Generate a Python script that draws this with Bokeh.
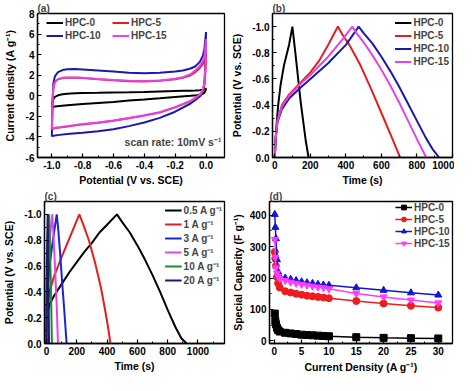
from bokeh.plotting import figure
from bokeh.layouts import column, row
from bokeh.models import Range1d, FixedTicker, PrintfTickFormatter, Legend, LegendItem, Label
from bokeh.embed import file_html
from bokeh.resources import INLINE

# ---------------- (a) CV curves ----------------
cv_v_fwd = [-1.0, -0.998, -0.995, -0.99, -0.98, -0.96, -0.93, -0.9, -0.85, -0.8, -0.7, -0.6,
            -0.5, -0.4, -0.3, -0.2, -0.15, -0.1, -0.07, -0.04, -0.02, -0.01, 0.0]
cv_v_rev = [0.0, -0.003, -0.01, -0.02, -0.035, -0.06, -0.1, -0.2, -0.3, -0.4, -0.5, -0.6,
            -0.7, -0.8, -0.9, -0.95, -0.98, -1.0]
hpc0_j_fwd = [-1.1, -0.8, -0.5, -0.3, -0.1, 0.05, 0.15, 0.2, 0.25, 0.28, 0.3, 0.33,
              0.35, 0.38, 0.42, 0.46, 0.48, 0.5, 0.52, 0.55, 0.6, 0.65, 0.72]
hpc0_j_rev = [0.72, 0.5, 0.3, 0.2, 0.12, 0.05, 0.0, -0.12, -0.25, -0.37, -0.47, -0.6,
              -0.7, -0.8, -0.92, -1.0, -1.05, -1.1]
hpc5_j_fwd = [-3.25, -2.0, -0.3, 0.8, 1.35, 1.6, 1.72, 1.75, 1.75, 1.72, 1.6, 1.5,
              1.42, 1.4, 1.45, 1.6, 1.75, 2.0, 2.3, 2.7, 3.1, 3.4, 4.2]
hpc5_j_rev = [4.2, 2.4, 1.1, 0.5, 0.15, -0.15, -0.52, -1.13, -1.63, -1.93, -2.18, -2.43,
              -2.63, -2.78, -2.98, -3.08, -3.13, -3.25]
hpc10_j_fwd = [-3.95, -2.5, -0.5, 1.2, 1.9, 2.3, 2.5, 2.58, 2.6, 2.55, 2.45, 2.35,
               2.25, 2.2, 2.25, 2.35, 2.45, 2.65, 2.85, 3.3, 3.9, 4.6, 6.2]
hpc10_j_rev = [6.2, 3.5, 1.25, 0.5, 0.0, -0.3, -0.75, -1.55, -2.15, -2.6, -2.95, -3.25,
               -3.45, -3.6, -3.72, -3.8, -3.85, -3.95]
hpc15_j_fwd = [-3.25, -2.0, -0.3, 0.8, 1.35, 1.62, 1.75, 1.78, 1.78, 1.75, 1.63, 1.53,
               1.45, 1.43, 1.48, 1.65, 1.8, 2.1, 2.45, 2.9, 3.4, 3.9, 5.5]
hpc15_j_rev = [5.5, 3.0, 1.3, 0.6, 0.2, -0.1, -0.5, -1.1, -1.6, -1.9, -2.15, -2.4,
               -2.6, -2.75, -2.95, -3.05, -3.1, -3.2]

# ---------------- (b) GCD of samples ----------------
b_hpc0_t = [0, 3, 8, 19, 32, 51, 80, 99, 118, 146, 175, 190]
b_hpc0_v = [0, -0.1, -0.22, -0.4, -0.55, -0.7, -0.86, -1.0, -0.77, -0.42, -0.12, 0.0]
b_hpc5_t = [0, 5, 15, 40, 80, 150, 200, 250, 300, 355, 380, 420, 480, 540, 600, 650, 690, 705]
b_hpc5_v = [0, -0.15, -0.28, -0.4, -0.48, -0.58, -0.65, -0.74, -0.86, -1.0, -0.94, -0.86,
            -0.71, -0.53, -0.34, -0.18, -0.05, 0.0]
b_hpc10_t = [0, 5, 15, 40, 80, 150, 200, 300, 400, 472, 500, 550, 600, 650, 700, 750, 800,
             850, 890, 925]
b_hpc10_v = [0, -0.15, -0.27, -0.37, -0.45, -0.54, -0.6, -0.72, -0.86, -1.0, -0.95, -0.87,
             -0.77, -0.66, -0.54, -0.41, -0.28, -0.15, -0.06, 0.0]
b_hpc15_t = [0, 5, 15, 40, 80, 150, 200, 300, 380, 436, 460, 500, 550, 600, 650, 700, 750,
             800, 830, 852]
b_hpc15_v = [0, -0.15, -0.28, -0.39, -0.47, -0.57, -0.63, -0.77, -0.9, -1.0, -0.95, -0.88,
             -0.78, -0.67, -0.55, -0.42, -0.28, -0.14, -0.06, 0.0]

# ---------------- (c) GCD of HPC-10 at different current densities ----------------
c_05_t = [0, 3, 8, 20, 50, 100, 150, 200, 250, 300, 350, 400, 465, 500, 550, 600, 650, 700,
          750, 800, 850, 890, 925]
c_05_v = [0, -0.15, -0.24, -0.3, -0.37, -0.46, -0.55, -0.63, -0.71, -0.78, -0.86, -0.92,
          -1.0, -0.94, -0.86, -0.76, -0.65, -0.53, -0.4, -0.26, -0.13, -0.04, 0.0]
c_1_t = [0, 3, 8, 20, 50, 100, 150, 217, 240, 280, 320, 360, 390, 410, 422]
c_1_v = [0, -0.2, -0.3, -0.4, -0.52, -0.67, -0.81, -1.0, -0.93, -0.8, -0.63, -0.43, -0.24,
         -0.1, 0.0]
c_3_t = [0, 2, 8, 20, 40, 55, 68, 78, 90, 105, 118, 128, 133]
c_3_v = [0, -0.3, -0.45, -0.6, -0.78, -0.9, -1.0, -0.88, -0.7, -0.45, -0.25, -0.08, 0.0]
c_5_t = [0, 1, 5, 12, 25, 38, 48, 58, 68, 76]
c_5_v = [0, -0.3, -0.5, -0.65, -0.85, -1.0, -0.8, -0.55, -0.28, 0.0]
c_10_t = [0, 1, 4, 10, 17, 24, 30, 36]
c_10_v = [0, -0.35, -0.55, -0.78, -1.0, -0.7, -0.4, 0.0]
c_20_t = [0, 1, 4, 8, 12, 17]
c_20_v = [0, -0.45, -0.75, -1.0, -0.6, 0.0]

# ---------------- (d) specific capacitance ----------------
d_current = [0.1, 0.2, 0.3, 0.5, 0.7, 1, 2, 3, 4, 5, 6, 7, 8, 9, 10, 15, 20, 25, 30]
d_hpc0 = [87, 63, 53, 42, 35, 30, 26, 24, 22, 20, 19, 18, 17, 16, 15, 12, 10, 9, 8]
d_hpc5 = [283, 262, 238, 203, 183, 170, 158, 154, 150, 147, 144, 142, 140, 138, 136, 127,
          119, 112, 106]
d_hpc10 = [402, 361, 325, 258, 220, 205, 200, 196, 192, 188, 185, 183, 180, 178, 177, 169,
           161, 153, 146]
d_hpc15 = [322, 265, 232, 215, 205, 198, 192, 187, 183, 180, 177, 174, 171, 169, 166, 151,
           140, 130, 121]

FONT = "Liberation Sans"
BLACK = "#000000"
RED = "#e02020"
BLUE = "#1a1aa8"
MAG = "#e444e4"
SUP = "\u207b\u00b9"


def make_fig(w, h, xr, yr, bl, br, bt, bb, title):
    p = figure(width=w, height=h, x_range=Range1d(*xr), y_range=Range1d(*yr),
               output_backend="svg", toolbar_location=None, title=title,
               min_border_left=bl, min_border_right=br, min_border_top=bt, min_border_bottom=bb)
    p.title.text_font = FONT
    p.title.text_font_style = "bold"
    p.title.text_font_size = "10px"
    p.title.standoff = 0
    p.title.align = "left"
    p.grid.visible = False
    p.outline_line_color = "black"
    p.outline_line_width = 1.3
    p.background_fill_color = "white"
    p.border_fill_color = "white"
    return p


def style_axes(p, xt, xm, yt, ym, xf, yf, xlabel, ylabel, ystand, xstand=2):
    p.xaxis.ticker = FixedTicker(ticks=xt, minor_ticks=xm)
    p.yaxis.ticker = FixedTicker(ticks=yt, minor_ticks=ym)
    p.xaxis.formatter = PrintfTickFormatter(format=xf)
    p.yaxis.formatter = PrintfTickFormatter(format=yf)
    p.xaxis.axis_label = xlabel
    p.yaxis.axis_label = ylabel
    p.xaxis.axis_label_standoff = xstand
    p.yaxis.axis_label_standoff = ystand
    for ax in (p.xaxis[0], p.yaxis[0]):
        ax.axis_line_color = "black"
        ax.axis_line_width = 1.3
        ax.major_tick_in = 4
        ax.major_tick_out = 0
        ax.minor_tick_in = 2
        ax.minor_tick_out = 0
        ax.major_tick_line_width = 1.2
        ax.minor_tick_line_width = 1
        ax.major_label_text_font = FONT
        ax.major_label_text_font_size = "10px"
        ax.major_label_text_font_style = "bold"
        ax.major_label_text_color = "black"
        ax.major_label_standoff = 3
        ax.axis_label_text_font = FONT
        ax.axis_label_text_font_size = "10.5px"
        ax.axis_label_text_font_style = "bold"
        ax.axis_label_text_color = "black"


def add_legend(p, items, loc, gh, spacing, margin=0, fs="10px"):
    lg = Legend(items=items, location=loc, orientation="vertical",
                glyph_width=17, glyph_height=gh, label_height=gh, spacing=spacing,
                padding=0, margin=margin, label_standoff=2,
                label_text_font=FONT, label_text_font_style="bold", label_text_font_size=fs,
                background_fill_alpha=0, border_line_alpha=0)
    p.add_layout(lg)


W1, W2 = 228, 226
H1, H2 = 188, 187
FH1 = H1 - 13 - 31
FH2 = H2 - 13 - 31

# ---- panel (a)
pa = make_fig(W1, H1, (-1.093, 0.12), (-6, 8), 36, 4, 13, 31, "(a)")
style_axes(pa, [-1.0, -0.8, -0.6, -0.4, -0.2, 0.0], [-0.9, -0.7, -0.5, -0.3, -0.1],
           [-6, -4, -2, 0, 2, 4, 6, 8], [-5, -3, -1, 1, 3, 5, 7],
           "%.1f", "%d", "Potential (V vs. SCE)", "Current density (A g" + SUP + ")", 7)
ra0 = pa.line(cv_v_fwd + cv_v_rev, hpc0_j_fwd + hpc0_j_rev, line_color=BLACK, line_width=2)
ra10 = pa.line(cv_v_fwd + cv_v_rev, hpc10_j_fwd + hpc10_j_rev, line_color=BLUE, line_width=2)
ra5 = pa.line(cv_v_fwd + cv_v_rev, hpc5_j_fwd + hpc5_j_rev, line_color=RED, line_width=2)
ra15 = pa.line(cv_v_fwd + cv_v_rev, hpc15_j_fwd + hpc15_j_rev, line_color=MAG, line_width=2)
add_legend(pa, [LegendItem(label="HPC-0", renderers=[ra0]),
                LegendItem(label="HPC-10", renderers=[ra10])], (9, FH1 - 3 - 26), 13, 0)
add_legend(pa, [LegendItem(label="HPC-5", renderers=[ra5]),
                LegendItem(label="HPC-15", renderers=[ra15])], (75, FH1 - 3 - 26), 13, 0)
pa.add_layout(Label(x=0.1, y=-4.5, text="scan rate: 10mV s" + SUP, text_font=FONT,
                    text_font_style="bold", text_font_size="10.5px", text_align="right",
                    text_baseline="middle"))

# ---- panel (b)
pb = make_fig(W2, H1, (-13, 1000), (0, -1.1), 39, 2, 13, 31, "(b)")
style_axes(pb, [0, 200, 400, 600, 800, 1000], [100, 300, 500, 700, 900],
           [0.0, -0.2, -0.4, -0.6, -0.8, -1.0], [-0.1, -0.3, -0.5, -0.7, -0.9],
           "%d", "%.1f", "Time (s)", "Potential (V vs. SCE)", 6)
rb0 = pb.line(b_hpc0_t, b_hpc0_v, line_color=BLACK, line_width=2)
rb5 = pb.line(b_hpc5_t, b_hpc5_v, line_color=RED, line_width=2)
rb10 = pb.line(b_hpc10_t, b_hpc10_v, line_color=BLUE, line_width=2)
rb15 = pb.line(b_hpc15_t, b_hpc15_v, line_color=MAG, line_width=2)
add_legend(pb, [LegendItem(label="HPC-0", renderers=[rb0]),
                LegendItem(label="HPC-5", renderers=[rb5]),
                LegendItem(label="HPC-10", renderers=[rb10]),
                LegendItem(label="HPC-15", renderers=[rb15])], "top_right", 13, 0, margin=3)

# ---- panel (c)
pc = make_fig(W1, H2, (-13, 1175), (0, -1.1), 36, 4, 13, 31, "(c)")
style_axes(pc, [0, 200, 400, 600, 800, 1000], [100, 300, 500, 700, 900, 1100],
           [0.0, -0.2, -0.4, -0.6, -0.8, -1.0], [-0.1, -0.3, -0.5, -0.7, -0.9],
           "%d", "%.1f", "Time (s)", "Potential (V vs. SCE)", 6)
rc05 = pc.line(c_05_t, c_05_v, line_color=BLACK, line_width=2)
rc1 = pc.line(c_1_t, c_1_v, line_color=RED, line_width=2)
rc3 = pc.line(c_3_t, c_3_v, line_color="#1e24cc", line_width=2)
rc5 = pc.line(c_5_t, c_5_v, line_color=MAG, line_width=2)
rc10 = pc.line(c_10_t, c_10_v, line_color="#1b8a2a", line_width=2)
rc20 = pc.line(c_20_t, c_20_v, line_color="#1a1a70", line_width=2)
add_legend(pc, [LegendItem(label="0.5 A g" + SUP, renderers=[rc05]),
                LegendItem(label="1 A g" + SUP, renderers=[rc1]),
                LegendItem(label="3 A g" + SUP, renderers=[rc3]),
                LegendItem(label="5 A g" + SUP, renderers=[rc5]),
                LegendItem(label="10 A g" + SUP, renderers=[rc10]),
                LegendItem(label="20 A g" + SUP, renderers=[rc20])],
           "top_right", 14, 0, margin=2)

# ---- panel (d)
pd = make_fig(W2, H2, (-0.87, 32.6), (-8, 443), 39, 2, 13, 31, "(d)")
style_axes(pd, [0, 5, 10, 15, 20, 25, 30], [2.5, 7.5, 12.5, 17.5, 22.5, 27.5],
           [0, 100, 200, 300, 400], [50, 150, 250, 350],
           "%d", "%d", "Current Density (A g" + SUP + ")", "Special Capacity (F g" + SUP + ")", 3, 3)
items_d = []
for name, vals, col, mk in [("HPC-0", d_hpc0, BLACK, "square"),
                            ("HPC-5", d_hpc5, "#ee1c1c", "circle"),
                            ("HPC-10", d_hpc10, "#1414d2", "triangle"),
                            ("HPC-15", d_hpc15, "#ff3cff", "inverted_triangle")]:
    l = pd.line(d_current, vals, line_color=col, line_width=1.5)
    s = pd.scatter(d_current, vals, marker=mk, size=7, fill_color=col, line_color=col)
    items_d.append(LegendItem(label=name, renderers=[l, s]))
add_legend(pd, items_d, (126, FH2 - 1 - 48), 12, 0)

layout = column(row(pa, pb, spacing=0), row(pc, pd, spacing=0), spacing=0)
open("out.html", "w").write(file_html(layout, INLINE))
